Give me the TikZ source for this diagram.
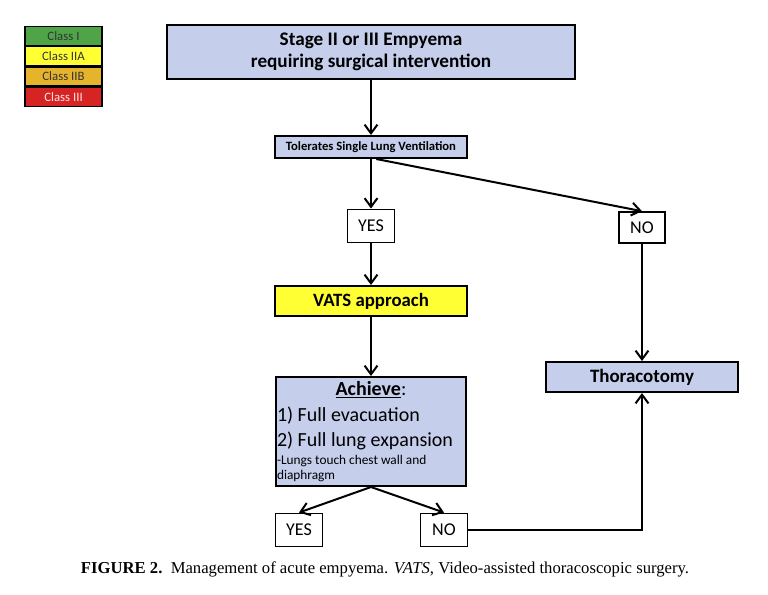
\documentclass[tikz,border=0pt]{standalone}
\usepackage{fontspec}
\setmainfont{Liberation Serif}
\newfontfamily\calibri{Carlito}
\usetikzlibrary{arrows.meta,positioning}
\usepackage{xcolor}
\definecolor{flowblue}{RGB}{197,206,235}
\definecolor{flowyellow}{RGB}{255,255,51}
\definecolor{clsgreen}{RGB}{80,164,72}
\definecolor{clsyellow}{RGB}{255,255,51}
\definecolor{clsorange}{RGB}{229,180,43}
\definecolor{clsred}{RGB}{214,36,36}
\tikzset{
    box/.style={
        draw=black,line width=1.5pt,fill=#1,
        align=center,inner sep=1pt,font=\calibri\bfseries
    },
    box/.default=flowblue,
    answer/.style={
        draw=black,line width=1.2pt,fill=white,inner sep=1pt,
        minimum width=35pt,minimum height=25pt,
        font=\calibri\fontsize{13.5}{15}\selectfont
    },
    legend/.style={
        draw=black,line width=0.9pt,fill=#1,inner sep=0pt,
        minimum width=57.75pt,minimum height=14.25pt,
        font=\calibri\fontsize{9.6}{10}\selectfont,text=black!80
    },
    arrow/.style={
        -{Straight Barb[length=2.3mm,width=3.4mm]},line width=1.5pt
    }
}

\begin{document}
\begin{tikzpicture}[x=0.75pt,y=-0.75pt]
\useasboundingbox (0,0) rectangle (768,594);

% legend
\node[legend=clsgreen] (clsI) at (63.5,36) {Class I};
\node[legend=clsyellow,below=0pt of clsI] (clsIIA) {Class IIA};
\node[legend=clsorange,below=0pt of clsIIA] (clsIIB) {Class IIB};
\node[legend=clsred,below=0pt of clsIIB,text=red!10] (clsIII) {Class III};

% main flow
\node[box,minimum width=306pt,minimum height=40.5pt,
font=\calibri\bfseries\fontsize{14.4}{16.5}\selectfont]
(stage) at (371,52)
{Stage II or III Empyema\\requiring surgical intervention};

\node[box,minimum width=144pt,minimum height=16.5pt,
font=\calibri\bfseries\fontsize{9.5}{10}\selectfont]
(slv) at (371,147) {Tolerates Single Lung Ventilation};

\node[answer] (yesA) at (371,226) {YES};
\node[answer,minimum width=34.5pt,minimum height=23.25pt] (noA) at (642,227.5) {NO};

\node[box=flowyellow,minimum width=144pt,minimum height=22.5pt,
font=\calibri\bfseries\fontsize{14.1}{15}\selectfont]
(vats) at (371,301) {VATS approach};

\node[box,align=none,text width=141pt,inner xsep=1pt,inner ysep=1pt,
minimum height=81.75pt,font=\calibri\fontsize{15}{19}\selectfont]
(achieve) at (371,431.5)
{\centering\underline{\textbf{Achieve}}:\par
\raggedright 1) Full evacuation\par
2) Full lung expansion\par\vspace{2.5pt}
{\fontsize{10}{11}\selectfont -Lungs touch chest wall and\newline diaphragm\par}};

\node[box,minimum width=144pt,minimum height=22.5pt,
font=\calibri\bfseries\fontsize{14.2}{15}\selectfont]
(thor) at (642,377) {Thoracotomy};

\node[answer] (yesB) at (299,530) {YES};
\node[answer] (noB) at (444,530) {NO};

% connectors
\draw[arrow] (stage) -- (slv);
\draw[arrow] (slv) -- (yesA);
\draw[arrow] ([xshift=4pt]slv.south) -- (noA.north);
\draw[arrow] (yesA) -- (vats);
\draw[arrow] (vats) -- (achieve);
\draw[arrow] (noA) -- (thor);
\draw[arrow] (achieve.south) -- (yesB.north);
\draw[arrow] (achieve.south) -- (noB.north);
\draw[arrow] (noB.east) -| (thor.south);

% caption
\node[font=\fontsize{12.5}{14}\selectfont] (caption) at (385,569)
{\textbf{FIGURE 2.}\ \ Management of acute empyema. \textit{VATS}, Video-assisted thoracoscopic surgery.};

\end{tikzpicture}
\end{document}
